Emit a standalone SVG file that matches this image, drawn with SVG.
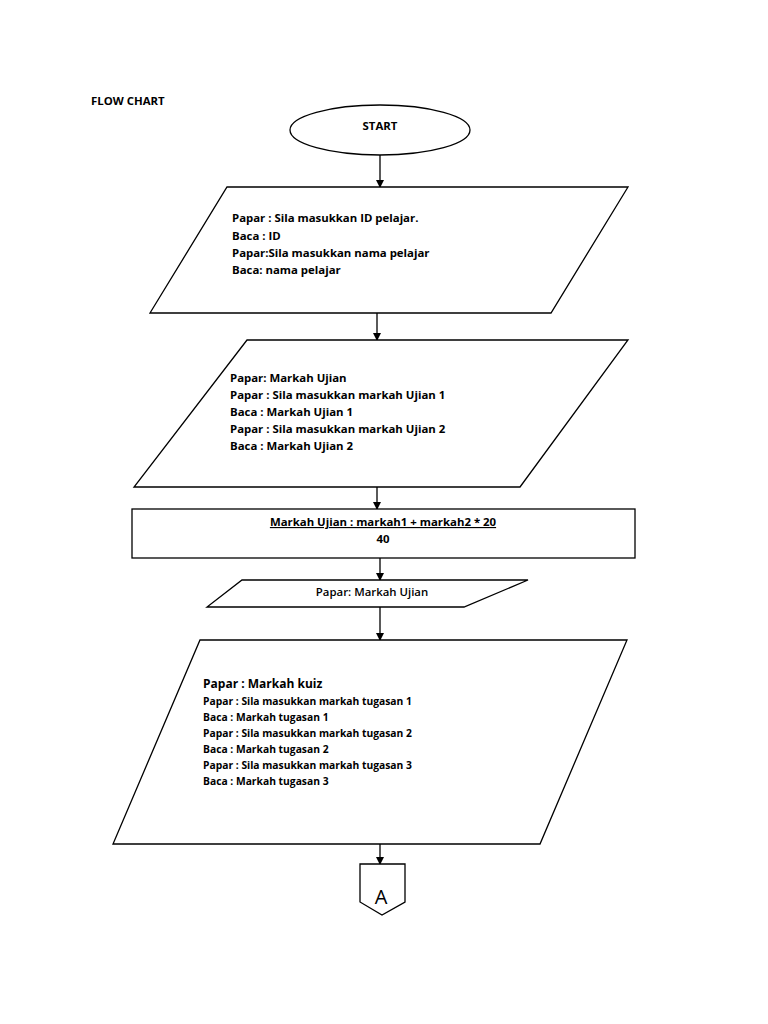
<svg xmlns="http://www.w3.org/2000/svg" width="768" height="1024" viewBox="0 0 768 1024">
<style>
.s{fill:#fff;stroke:#000;stroke-width:1.3}
.t{font-family:"Open Sans","Liberation Sans",sans-serif;font-weight:bold;font-size:11.4px;fill:#000}
.m{font-size:10.3px}
.c{stroke:#000;stroke-width:1.3;fill:none;marker-end:url(#a)}
</style>
<defs><marker id="a" markerWidth="8" markerHeight="8" refX="7" refY="4" orient="auto" markerUnits="userSpaceOnUse"><path d="M0,0L8,4L0,8z" fill="#000"/></marker></defs>
<rect width="768" height="1024" fill="#fff"/>
<text class="t" x="91" y="105">FLOW CHART</text>
<g id="connectors">
<line class="c" x1="380" y1="155" x2="380" y2="187"/>
<line class="c" x1="377" y1="313" x2="377" y2="340"/>
<line class="c" x1="377" y1="487" x2="377" y2="509"/>
<line class="c" x1="380" y1="558" x2="380" y2="580"/>
<line class="c" x1="380" y1="607" x2="380" y2="640"/>
<line class="c" x1="380" y1="844" x2="380" y2="864"/>
</g>
<g id="start"><ellipse class="s" cx="380" cy="130" rx="90" ry="25"/><text class="t" x="380" y="130" text-anchor="middle">START</text></g>
<g id="input1"><polygon class="s" points="227,187 628,187 551,313 150,313"/>
<text class="t" x="232" y="222">Papar : Sila masukkan ID pelajar.</text>
<text class="t" x="232" y="240">Baca : ID</text>
<text class="t" x="232" y="257">Papar:Sila masukkan nama pelajar</text>
<text class="t" x="232" y="274">Baca: nama pelajar</text></g>
<g id="input2"><polygon class="s" points="247,340 628,340 520,487 134,487"/>
<text class="t" x="230" y="382">Papar: Markah Ujian</text>
<text class="t" x="230" y="399">Papar : Sila masukkan markah Ujian 1</text>
<text class="t" x="230" y="416">Baca : Markah Ujian 1</text>
<text class="t" x="230" y="433">Papar : Sila masukkan markah Ujian 2</text>
<text class="t" x="230" y="450">Baca : Markah Ujian 2</text></g>
<g id="process"><rect class="s" x="132" y="509" width="503" height="49"/>
<text class="t" x="383" y="526" text-anchor="middle" text-decoration="underline">Markah Ujian : markah1 + markah2 * 20</text>
<text class="t" x="383" y="543" text-anchor="middle">40</text></g>
<g id="output1"><polygon class="s" points="242,580 528,580 464,607 207,607" stroke-width="0.8"/>
<text class="t" x="372" y="596" text-anchor="middle" style="font-weight:600">Papar: Markah Ujian</text></g>
<g id="input3"><polygon class="s" points="200,640 627,640 540,844 113,844"/>
<text class="t" x="203" y="688" style="font-size:12px">Papar : Markah kuiz</text>
<text class="t m" x="203" y="705">Papar : Sila masukkan markah tugasan 1</text>
<text class="t m" x="203" y="721">Baca : Markah tugasan 1</text>
<text class="t m" x="203" y="737">Papar : Sila masukkan markah tugasan 2</text>
<text class="t m" x="203" y="753">Baca : Markah tugasan 2</text>
<text class="t m" x="203" y="769">Papar : Sila masukkan markah tugasan 3</text>
<text class="t m" x="203" y="785">Baca : Markah tugasan 3</text></g>
<g id="connectorA"><polygon class="s" points="360,864 405,864 405,902 382,915 360,902" stroke-width="1"/>
<text x="381" y="904" text-anchor="middle" style="font-family:'Open Sans','Liberation Sans',sans-serif;font-size:20px">A</text></g>
</svg>
